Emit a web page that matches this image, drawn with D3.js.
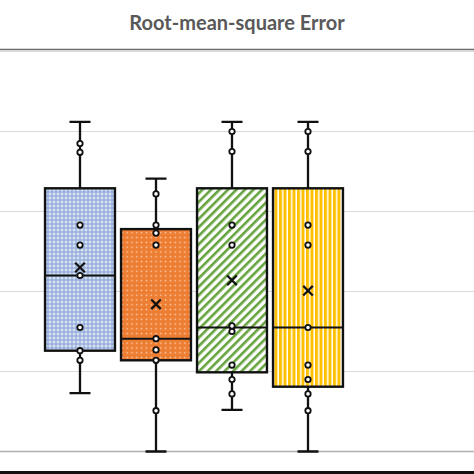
<!DOCTYPE html>
<html>
<head>
<meta charset="utf-8">
<script src="https://cdn.jsdelivr.net/npm/d3@7"></script>
<style>
  html, body { margin: 0; padding: 0; background: #fff; }
  svg { display: block; }
</style>
</head>
<body>
<svg id="svg"></svg>
<script>
const w = 474,
      h = 474;

// one entry per box
const groups  = ['A', 'B', 'C', 'D'];
const mins    = [0.73, 0.00, 0.52, 0.00];
const q1s     = [1.26, 1.14, 0.99, 0.81];
const medians = [2.20, 1.41, 1.55, 1.55];
const q3s     = [3.29, 2.78, 3.29, 3.29];
const maxs    = [4.12, 3.41, 4.12, 4.12];
const means   = [2.30, 1.84, 2.14, 2.01];
const points  = [
  [3.85, 3.74, 2.83, 2.58, 2.20, 1.55, 1.26, 1.14],
  [3.22, 2.83, 2.73, 2.58, 1.41, 1.27, 1.14, 0.51],
  [4.00, 3.75, 2.83, 2.58, 1.57, 1.50, 1.08, 0.90, 0.72],
  [4.00, 3.75, 2.83, 2.58, 1.55, 1.08, 0.90, 0.72, 0.51]
];
const gridTicks = [0, 1, 2, 3, 4, 5];
const patterns  = ['pat-blue', 'pat-orange', 'pat-green', 'pat-yellow'];

const svg = d3.select('#svg').attr('width', w).attr('height', h);

const x = d3.scaleBand().domain(groups).range([42, 346]).paddingInner(0.08).paddingOuter(0.04);
const y = d3.scaleLinear().domain([0, 5]).range([451.5, 51.5]);

/* Patterns */
const defs = svg.append('defs');

const pBlue = defs.append('pattern').attr('id', 'pat-blue')
  .attr('width', 4).attr('height', 4).attr('patternUnits', 'userSpaceOnUse');
pBlue.append('rect').attr('width', 4).attr('height', 4).attr('fill', '#98b0dc');
pBlue.append('rect').attr('x', 1.5).attr('y', 0.5).attr('width', 1).attr('height', 3).attr('fill', '#eef2fa');
pBlue.append('rect').attr('x', 0.5).attr('y', 1.5).attr('width', 3).attr('height', 1).attr('fill', '#eef2fa');

const pOrange = defs.append('pattern').attr('id', 'pat-orange')
  .attr('width', 4.8).attr('height', 4.8).attr('patternUnits', 'userSpaceOnUse');
pOrange.append('rect').attr('width', 4.8).attr('height', 4.8).attr('fill', '#ed7d31');
pOrange.append('rect').attr('x', 1.7).attr('y', 1.7).attr('width', 1.4).attr('height', 1.4).attr('fill', '#fcd9bf');

const pGreen = defs.append('pattern').attr('id', 'pat-green')
  .attr('width', 6).attr('height', 6).attr('patternUnits', 'userSpaceOnUse')
  .attr('patternTransform', 'rotate(-45)');
pGreen.append('rect').attr('width', 6).attr('height', 6).attr('fill', '#fff');
pGreen.append('rect').attr('width', 6).attr('height', 2.6).attr('fill', '#64a33e');

const pYellow = defs.append('pattern').attr('id', 'pat-yellow')
  .attr('width', 4.5).attr('height', 4.5).attr('patternUnits', 'userSpaceOnUse');
pYellow.append('rect').attr('width', 4.5).attr('height', 4.5).attr('fill', '#fff');
pYellow.append('rect').attr('width', 3).attr('height', 4.5).attr('fill', '#ffc000');

/* Title */
svg.append('text').attr('x', w/2).attr('y', 29.5)
  .attr('text-anchor', 'middle')
  .style('font-family', 'Lato, "Open Sans", sans-serif')
  .style('font-weight', 'bold')
  .style('font-size', '20px')
  .style('fill', '#595959')
  .text('Root-mean-square Error');

/* Grid */
svg.append('g').selectAll('line').data(gridTicks).enter()
  .append('line')
  .attr('x1', 0).attr('x2', w)
  .attr('y1', (d) => y(d)).attr('y2', (d) => y(d))
  .attr('stroke', (d) => d === 0 ? '#b0b0b0' : '#d9d9d9')
  .attr('stroke-width', (d) => d === 0 ? 1.5 : 1);

svg.append('line').attr('x1', 0).attr('x2', w).attr('y1', y(5) - 2).attr('y2', y(5) - 2)
  .attr('stroke', '#6a6a6a').attr('stroke-width', 1.6);

svg.append('rect').attr('x', 0).attr('y', 471).attr('width', w).attr('height', 3).attr('fill', '#111');

/* Boxes */
const boxes = svg.append('g').selectAll('g').data(groups).enter()
  .append('g');

const cx = (i) => x(groups[i]) + x.bandwidth()/2;

// whiskers
boxes.append('line')
  .attr('x1', (d, i) => cx(i)).attr('x2', (d, i) => cx(i))
  .attr('y1', (d, i) => y(maxs[i])).attr('y2', (d, i) => y(mins[i]))
  .attr('stroke', '#111').attr('stroke-width', 2.3);
boxes.append('path')
  .attr('d', (d, i) => `M${cx(i) - 10.5},${y(maxs[i])}H${cx(i) + 10.5}M${cx(i) - 10.5},${y(mins[i])}H${cx(i) + 10.5}`)
  .attr('stroke', '#111').attr('stroke-width', 2.3);

boxes.append('rect')
  .attr('x', (d) => x(d))
  .attr('width', x.bandwidth())
  .attr('y', (d, i) => y(q3s[i]))
  .attr('height', (d, i) => y(q1s[i]) - y(q3s[i]))
  .attr('fill', (d, i) => `url(#${patterns[i]})`)
  .attr('stroke', '#111').attr('stroke-width', 2.4);

boxes.append('line')
  .attr('x1', (d) => x(d)).attr('x2', (d) => x(d) + x.bandwidth())
  .attr('y1', (d, i) => y(medians[i])).attr('y2', (d, i) => y(medians[i]))
  .attr('stroke', '#111').attr('stroke-width', 1.9);

// inner points
boxes.selectAll('circle').data((d, i) => points[i].map((v) => ({i: i, v: v}))).enter()
  .append('circle')
  .attr('cx', (p) => cx(p.i))
  .attr('cy', (p) => y(p.v))
  .attr('r', 2.7)
  .attr('fill', '#fff').attr('stroke', '#111').attr('stroke-width', 1.8);

// mean markers
boxes.append('path')
  .attr('d', (d, i) => {
    const mx = cx(i), my = y(means[i]), s = 4.8;
    return `M${mx - s},${my - s}L${mx + s},${my + s}M${mx + s},${my - s}L${mx - s},${my + s}`;
  })
  .attr('stroke', '#111').attr('stroke-width', 2.2);
</script>
</body>
</html>
